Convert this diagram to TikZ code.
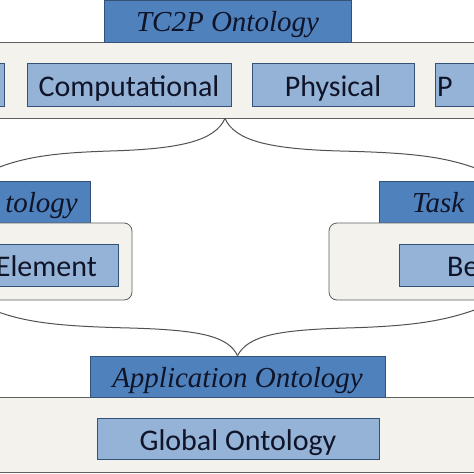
\documentclass[tikz,border=0pt]{standalone}
\usepackage{fontspec}
\setmainfont{Carlito}
\newfontfamily\titrefont{Liberation Serif}
\usepackage{tikz}
\usepackage{xcolor}
\definecolor{bleuFonce}{RGB}{79,129,189}
\definecolor{bleuClair}{RGB}{149,179,215}
\definecolor{creme}{RGB}{243,242,236}
\definecolor{bordFonce}{RGB}{52,82,120}
\definecolor{bordGris}{RGB}{95,95,95}
\definecolor{encre}{RGB}{15,20,40}
\tikzset{
Onglet/.style={
 draw=bordFonce, 
 fill=bleuFonce, 
 line width=0.8pt, 
 inner sep=0pt, 
 minimum height=42pt,
 text=encre
 },
Boite/.style={
 draw=bordFonce, 
 fill=bleuClair, 
 line width=0.8pt, 
 inner sep=0pt, 
 minimum height=42pt,
 text=encre
 },
Cadre/.style={
 draw=bordGris, 
 fill=creme, 
 line width=0.8pt, 
 inner sep=0pt
 },
Titre/.style={
 font=\titrefont\itshape\fontsize{29}{35}\selectfont, 
 text height=28pt, 
 text depth=7pt
 },
Etiquette/.style={
 font=\fontsize{30}{36}\selectfont, 
 text height=30pt, 
 text depth=7pt
 },
Morceau/.style={
 inner sep=0pt, 
 text=encre
 },
Accolade/.style={
 draw=bordGris!85!black, 
 line width=1pt
 }
}
\begin{document}
\begin{tikzpicture}[x=1pt,y=-1pt]
\useasboundingbox (0,0) rectangle (474,474);
% bandeau du haut
\node[Cadre, minimum width=494pt, minimum height=76pt] (bandeHaut) at (237,80) {};
\node[Onglet, Titre, minimum width=247pt] (tcp) at (227.5,21) {TC2P Ontology};
\node[Boite, minimum width=104pt, minimum height=43pt] (boiteG) at (-48,84.5) {};
\node[Boite, Etiquette, minimum width=204pt, minimum height=43pt] (calcul) at (129,84.5) {Computational};
\node[Boite, Etiquette, minimum width=162pt, minimum height=43pt] (physique) at (333,84.5) {Physical};
\node[Boite, minimum width=165pt, minimum height=43pt] (boiteD) at (517.5,84.5) {};
\node[Morceau, Etiquette, anchor=base west, text height=, text depth=] (pTxt) at (437,96) {P};
% cadres du milieu
\node[Onglet, minimum width=290pt] (ongletG) at (-55,202) {};
\node[Morceau, Titre, anchor=base east, text height=, text depth=] (ongletGTxt) at (78,212.5) {tology};
\node[Cadre, rounded corners=8pt, minimum width=232pt, minimum height=77pt] (cadreG) at (16,261.5) {};
\node[Boite, minimum width=218pt] (element) at (9,265) {};
\node[Morceau, Etiquette, anchor=base east, text height=, text depth=] (elementTxt) at (97,276.5) {Element};
\node[Onglet, minimum width=321pt] (tache) at (539.5,202) {};
\node[Morceau, Titre, anchor=base west, text height=, text depth=] (tacheTxt) at (412,212.5) {Task};
\node[Cadre, rounded corners=8pt, minimum width=371pt, minimum height=77pt] (cadreD) at (514.5,261.5) {};
\node[Boite, minimum width=301pt] (beBoite) at (549.5,265) {};
\node[Morceau, Etiquette, anchor=base west, text height=, text depth=] (beTxt) at (447,276.5) {Be};
% bandeau du bas
\node[Cadre, minimum width=494pt, minimum height=75pt] (bandeBas) at (237,434.5) {};
\node[Onglet, Titre, minimum width=295pt, minimum height=41pt] (appli) at (237.5,376.5) {Application Ontology};
\node[Boite, Etiquette, minimum width=282pt, minimum height=41pt] (global) at (238,438.5) {Global Ontology};
% accolades
\coordinate (pointeHaut) at ([xshift=-12pt]bandeHaut.south);
\coordinate (hautG) at (110,151);
\coordinate (hautD) at (340,151);
\coordinate (finHautG) at (-25,178);
\coordinate (finHautD) at (499,178);
\draw[Accolade] (pointeHaut) .. controls (215,141) and (180,149) .. (hautG) .. controls (50,153) and (15,157) .. (finHautG);
\draw[Accolade] (pointeHaut) .. controls (235,141) and (270,149) .. (hautD) .. controls (420,153) and (455,157) .. (finHautD);
\coordinate (basG) at (130,328);
\coordinate (basD) at (346,328);
\coordinate (finBasG) at (-25,302);
\coordinate (finBasD) at (499,300);
\draw[Accolade] (appli.north) .. controls (228,336) and (200,330) .. (basG) .. controls (50,326) and (15,322) .. (finBasG);
\draw[Accolade] (appli.north) .. controls (248,336) and (276,330) .. (basD) .. controls (420,326) and (455,320) .. (finBasD);
\end{tikzpicture}
\end{document}
